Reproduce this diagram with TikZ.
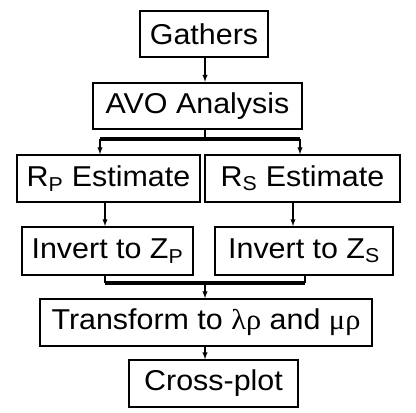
\documentclass[tikz,border=0pt]{standalone}
\usepackage{fontspec}
\setmainfont[FakeStretch=1.06]{Liberation Sans}
\newfontfamily\greekfont[FakeStretch=1.06]{Liberation Serif}
\usetikzlibrary{positioning}
\begin{document}
\begin{tikzpicture}[
x=0.03cm, y=-0.03cm,
box/.style={
draw,
line width=1.6pt,
minimum height=1.4cm,
inner sep=0pt,
align=center,
font=\fontsize{24.5pt}{28pt}\selectfont
},
link/.style={-latex, line width=1pt},
bar/.style={line width=2.6pt}
]
\useasboundingbox (0,0) rectangle (416,412);
\node[box, minimum width=3.84cm] (gathers) at (204,34) {Gathers};
\node[box, minimum width=6.27cm] (avo) at (197.5,106) {AVO Analysis};
\node[box, minimum width=5.49cm] (rp) at (108.5,178.5) {R\textsubscript{P} Estimate};
\node[box, minimum width=5.85cm] (rs) at (302.5,178.5) {R\textsubscript{S} Estimate};
\node[box, minimum width=5.13cm, minimum height=1.44cm] (zp) at (107.5,251) {Invert to Z\textsubscript{P}};
\node[box, minimum width=5.34cm, minimum height=1.44cm] (zs) at (304,251) {Invert to Z\textsubscript{S}};
\node[box, minimum width=9.96cm] (transform) at (206,322.5) {Transform to {\greekfont λρ} and {\greekfont μρ}};
\node[box, minimum width=5.07cm] (crossplot) at (213.5,383.5) {Cross-plot};
% split and join points
\coordinate (split) at (205,139);
\coordinate (splitl) at (100,139);
\coordinate (splitr) at (300,139);
\coordinate (joinl) at (105,283);
\coordinate (joinr) at (305,283);
\coordinate (join) at (205,283);
\coordinate (rsdown) at (293,200);
\draw[link] (gathers.south -| split) -- (avo.north -| split);
\draw[line width=1pt] (avo.south -| split) -- (split);
\draw[bar] (splitl) -- (splitr);
\draw[link] (splitl) -- (rp.north -| splitl);
\draw[link] (splitr) -- (rs.north -| splitr);
\draw[link] (rp.south -| joinl) -- (zp.north -| joinl);
\draw[link] (rs.south -| rsdown) -- (zs.north -| rsdown);
\draw[line width=1pt] (zp.south -| joinl) -- (joinl);
\draw[line width=1pt] (zs.south -| joinr) -- (joinr);
\draw[bar] (joinl) -- (joinr);
\draw[link] (join) -- (transform.north -| join);
\draw[link] (transform.south -| join) -- (crossplot.north -| join);
\end{tikzpicture}
\end{document}
